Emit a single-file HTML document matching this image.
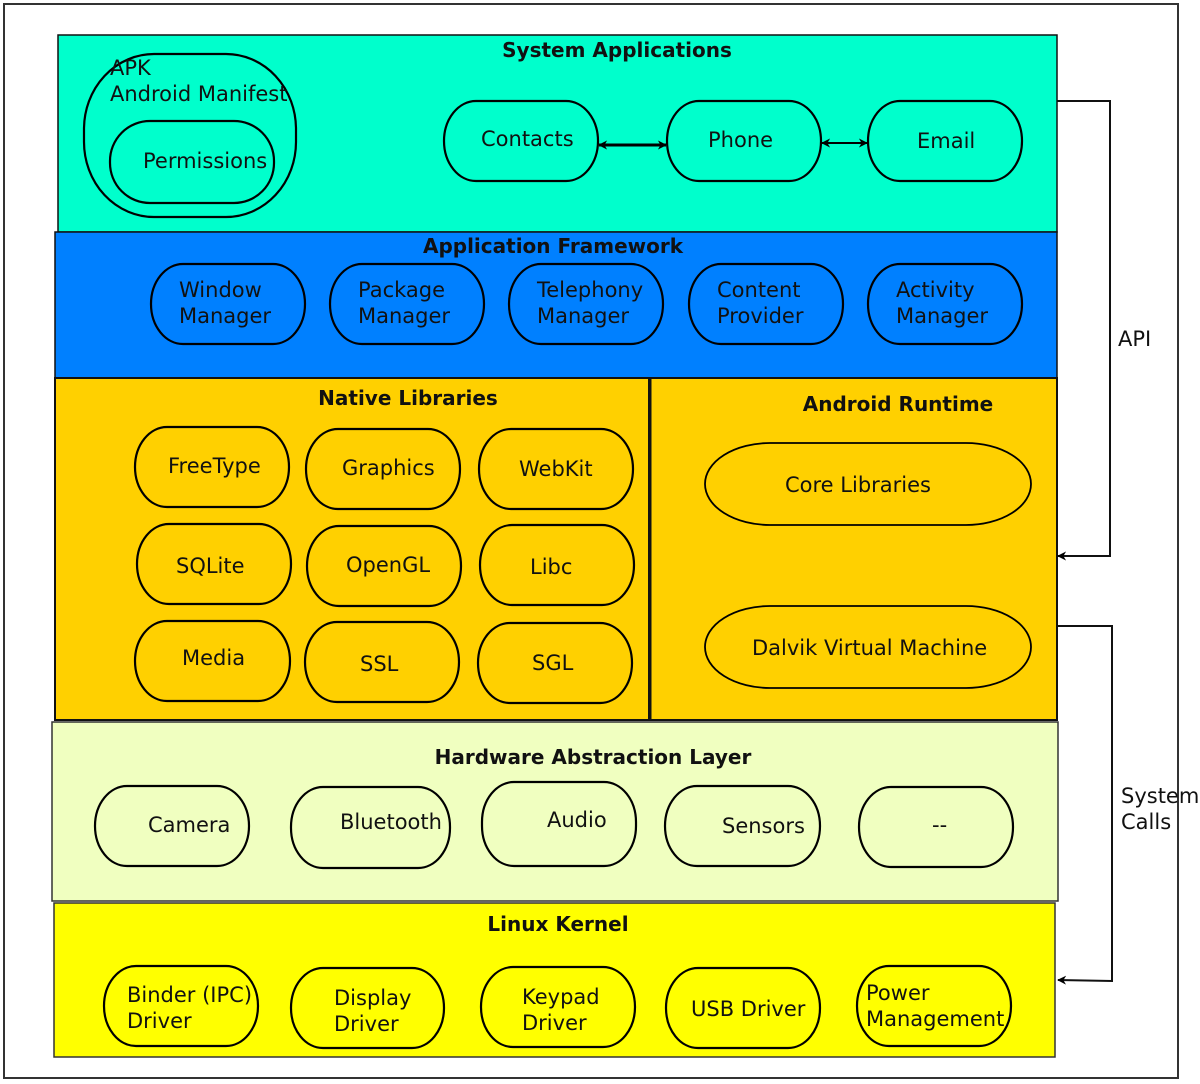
<!DOCTYPE html>
<html><head><meta charset="utf-8"><style>
html,body{margin:0;padding:0;background:#fff}
svg{display:block}
text{font-family:"DejaVu Sans","Liberation Sans",sans-serif;font-size:21px;fill:#111}
.t{font-weight:bold;font-size:20px}
.p{stroke:#000;stroke-width:2.2}
</style></head><body>
<svg width="1200" height="1084" viewBox="0 0 1200 1084" xmlns="http://www.w3.org/2000/svg">
<defs>
<marker id="ah" viewBox="0 0 10 10" refX="9" refY="5" markerWidth="9" markerHeight="9" orient="auto-start-reverse" markerUnits="userSpaceOnUse"><path d="M0,0 L10,5 L0,10 L3,5 z" fill="#000"/></marker>
</defs>
<rect x="4" y="4" width="1174" height="1074" fill="#fff" stroke="#333" stroke-width="2"/>
<!-- sections -->
<rect x="58" y="35" width="999" height="197" fill="#00ffcc" stroke="#111" stroke-width="1.5"/>
<rect x="55" y="232" width="1002" height="146" fill="#0080ff" stroke="#111" stroke-width="1.5"/>
<rect x="55" y="378" width="594" height="342" fill="#ffd000" stroke="#111" stroke-width="2"/>
<rect x="649" y="378" width="408" height="342" fill="#ffd000" stroke="#111" stroke-width="2"/>
<line x1="650" y1="378" x2="650" y2="720" stroke="#111" stroke-width="3"/>
<rect x="52" y="722" width="1006" height="179" fill="#f0ffc0" stroke="#333" stroke-width="1.5"/>
<rect x="54" y="903" width="1001" height="154" fill="#ffff00" stroke="#333" stroke-width="1.5"/>

<text class="t" x="617" y="57" text-anchor="middle">System Applications</text>
<text class="t" x="553" y="253" text-anchor="middle">Application Framework</text>
<text class="t" x="408" y="405" text-anchor="middle">Native Libraries</text>
<text class="t" x="898" y="411" text-anchor="middle">Android Runtime</text>
<text class="t" x="593" y="764" text-anchor="middle">Hardware Abstraction Layer</text>
<text class="t" x="558" y="931" text-anchor="middle">Linux Kernel</text>

<g fill="none" class="p">
<rect x="84" y="54" width="212" height="163" rx="70" ry="75"/>
<rect x="110" y="121" width="164" height="82" rx="40" ry="40"/>
</g>
<text x="110" y="75">APK</text>
<text x="110" y="101">Android Manifest</text>
<text x="143" y="168">Permissions</text>

<g fill="none" class="p">
<rect x="444" y="101" width="154" height="80" rx="32" ry="40"/>
<rect x="667" y="101" width="154" height="80" rx="32" ry="40"/>
<rect x="868" y="101" width="154" height="80" rx="32" ry="40"/>
</g>
<text x="481" y="146">Contacts</text>
<text x="708" y="147">Phone</text>
<text x="917" y="148">Email</text>
<line x1="599" y1="145" x2="666" y2="145" stroke="#000" stroke-width="3" marker-start="url(#ah)" marker-end="url(#ah)"/>
<line x1="822" y1="143" x2="867" y2="143" stroke="#000" stroke-width="2" marker-start="url(#ah)" marker-end="url(#ah)"/>

<g fill="none" class="p">
<rect x="151" y="264" width="154" height="80" rx="32" ry="40"/>
<rect x="330" y="264" width="154" height="80" rx="32" ry="40"/>
<rect x="509" y="264" width="154" height="80" rx="32" ry="40"/>
<rect x="689" y="264" width="154" height="80" rx="32" ry="40"/>
<rect x="868" y="264" width="154" height="80" rx="32" ry="40"/>
</g>
<text x="179" y="297">Window</text><text x="179" y="323">Manager</text>
<text x="358" y="297">Package</text><text x="358" y="323">Manager</text>
<text x="537" y="297">Telephony</text><text x="537" y="323">Manager</text>
<text x="717" y="297">Content</text><text x="717" y="323">Provider</text>
<text x="896" y="297">Activity</text><text x="896" y="323">Manager</text>

<g fill="none" class="p">
<rect x="135" y="427" width="154" height="80" rx="32" ry="40"/>
<rect x="306" y="429" width="154" height="80" rx="32" ry="40"/>
<rect x="479" y="429" width="154" height="80" rx="32" ry="40"/>
<rect x="137" y="524" width="154" height="80" rx="32" ry="40"/>
<rect x="307" y="526" width="154" height="80" rx="32" ry="40"/>
<rect x="480" y="525" width="154" height="80" rx="32" ry="40"/>
<rect x="135" y="621" width="155" height="80" rx="32" ry="40"/>
<rect x="305" y="622" width="154" height="80" rx="32" ry="40"/>
<rect x="478" y="623" width="154" height="80" rx="32" ry="40"/>
</g>
<text x="168" y="473">FreeType</text>
<text x="342" y="475">Graphics</text>
<text x="519" y="476">WebKit</text>
<text x="176" y="573">SQLite</text>
<text x="346" y="572">OpenGL</text>
<text x="530" y="574">Libc</text>
<text x="182" y="665">Media</text>
<text x="360" y="671">SSL</text>
<text x="532" y="670">SGL</text>

<g fill="none" stroke="#000" stroke-width="1.8">
<rect x="705" y="443" width="326" height="82" rx="65" ry="41"/>
<rect x="705" y="606" width="326" height="82" rx="65" ry="41"/>
</g>
<text x="785" y="492">Core Libraries</text>
<text x="752" y="655">Dalvik Virtual Machine</text>

<g fill="none" class="p">
<rect x="95" y="786" width="154" height="80" rx="32" ry="40"/>
<rect x="291" y="787" width="159" height="81" rx="32" ry="40"/>
<rect x="482" y="782" width="154" height="84" rx="32" ry="40"/>
<rect x="665" y="786" width="155" height="80" rx="32" ry="40"/>
<rect x="859" y="787" width="154" height="80" rx="32" ry="40"/>
</g>
<text x="148" y="832">Camera</text>
<text x="340" y="829">Bluetooth</text>
<text x="547" y="827">Audio</text>
<text x="722" y="833">Sensors</text>
<text x="932" y="832">--</text>

<g fill="none" class="p">
<rect x="104" y="966" width="154" height="80" rx="32" ry="40"/>
<rect x="291" y="968" width="153" height="80" rx="32" ry="40"/>
<rect x="481" y="967" width="154" height="80" rx="32" ry="40"/>
<rect x="666" y="968" width="154" height="80" rx="32" ry="40"/>
<rect x="857" y="966" width="154" height="80" rx="32" ry="40"/>
</g>
<text x="127" y="1002">Binder (IPC)</text><text x="127" y="1028">Driver</text>
<text x="334" y="1005">Display</text><text x="334" y="1031">Driver</text>
<text x="522" y="1004">Keypad</text><text x="522" y="1030">Driver</text>
<text x="691" y="1016">USB Driver</text>
<text x="866" y="1000">Power</text><text x="866" y="1026">Management</text>

<!-- side connectors -->
<polyline points="1057,101 1110,101 1110,556 1058,556" fill="none" stroke="#111" stroke-width="2" marker-end="url(#ah)"/>
<polyline points="1057,626 1112,626 1112,981 1058,980" fill="none" stroke="#111" stroke-width="2" marker-end="url(#ah)"/>
<text x="1118" y="346">API</text>
<text x="1121" y="803">System</text>
<text x="1121" y="829">Calls</text>
</svg>
</body></html>
